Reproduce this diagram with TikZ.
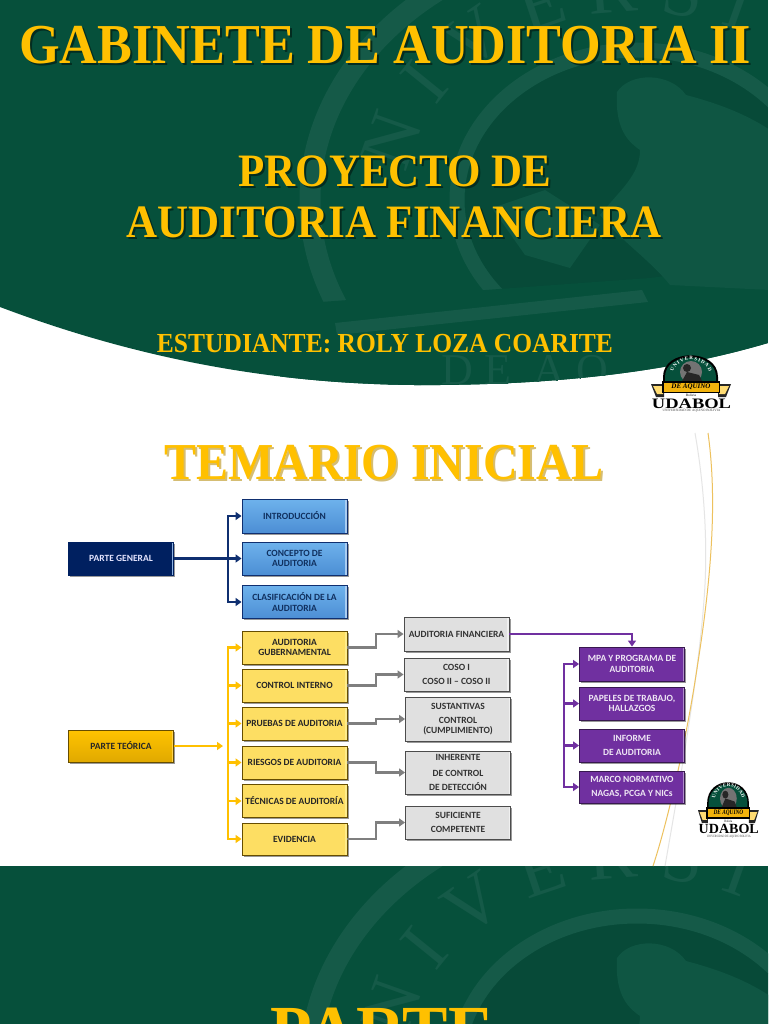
\documentclass[tikz,border=0pt]{standalone}
\usepackage{fontspec}
\setmainfont{Liberation Serif}
\newfontfamily\cajafont{Carlito}
\usetikzlibrary{arrows.meta,shadows,decorations.text}

\definecolor{verdefondo}{HTML}{06503B}
\definecolor{verdesello}{HTML}{155A48}
\definecolor{verdefigura}{HTML}{0F5643}
\definecolor{verdeoscuro}{HTML}{074A38}
\definecolor{oro}{HTML}{FFC000}
\definecolor{azulosc}{HTML}{002060}
\definecolor{azulflecha}{HTML}{0F2F70}
\definecolor{azulborde}{HTML}{8FB4E3}
\definecolor{azulclaro}{HTML}{A9CDF2}
\definecolor{grisflecha}{HTML}{7F7F7F}
\definecolor{moradoflecha}{HTML}{7030A0}
\definecolor{tituloazul}{HTML}{10305F}

\newcommand{\sombreado}[2]{\leavevmode\rlap{\kern2pt\raisebox{-2pt}{\color{#1}#2}}#2}

\tikzset{
  titulo/.style={text=oro,font=\bfseries\fontsize{#1}{#1}\selectfont,inner sep=0pt,yscale=1.08,transform shape},
  cajabase/.style={rectangle,minimum width=105pt,inner sep=0pt,align=center,line width=0.9pt,
    font=\cajafont\bfseries\fontsize{9.5}{10.5}\selectfont,
    drop shadow={shadow xshift=1.5pt,shadow yshift=-1.5pt,opacity=0.4,fill=black},
    path picture={\fill[#1] ([xshift=-2pt]path picture bounding box.north east) rectangle (path picture bounding box.south east);}},
  cajaazul/.style={cajabase=azulclaro,draw=azulflecha,top color={rgb,255:red,110;green,178;blue,236},bottom color={rgb,255:red,76;green,142;blue,212},text=tituloazul},
  cajamarino/.style={cajabase=azulborde,draw=azulosc,fill=azulosc,text=white!90!blue},
  cajaoro/.style={cajabase=oro!70!white,draw=oro!40!black,top color=oro!95!yellow,bottom color=oro!88!black,text=black!85},
  cajaamarilla/.style={cajabase=yellow!50!oro!45!white,draw=black!60!oro,fill=yellow!25!oro!60!white,text=black!85},
  cajagris/.style={cajabase=black!6,draw=black!70,fill=black!12,text=black!80},
  cajamorada/.style={cajabase=moradoflecha!55!white,draw=moradoflecha!50!black,fill=moradoflecha,text=white!88!moradoflecha},
  flecha/.style={line width=2.1pt,-{Triangle[length=6pt,width=8pt]}},
  logotexto/.style={inner sep=0pt,text=black},
}

% Dibuja el sello de fondo
\newcommand{\sellofondo}{%
  \fill [verdeoscuro] (637,200) ellipse (172 and 143);%
  \draw [verdesello,line width=21pt] (637,200) ellipse (327 and 264);%
  \draw [verdesello,line width=15pt] (637,200) ellipse (180 and 150);%
  \fill [verdefondo] (280,305) -- (650,278) -- (790,260) -- (790,480) -- (280,480) -- cycle;%
  \fill [verdesello] (335,323) -- (642,290) -- (648,302) -- (337,335) -- cycle;%
  % cabeza y cuerpo
  \fill [verdefigura] (617,92) .. controls (630,72) and (670,72) .. (686,95) .. controls (705,100) and (740,110) .. (770,130)
    -- (770,290) -- (670,285) .. controls (650,260) and (620,240) .. (600,215) .. controls (620,190) and (640,175) .. (640,150)
    .. controls (625,140) and (615,125) .. (617,92) -- cycle;%
  % libro
  \fill [verdefigura] (492,208) -- (545,190) -- (600,225) -- (570,268) -- (525,255) -- cycle;%
  \path [decorate,decoration={text along path,text align=fit to path,
    text={|\fontsize{74}{74}\selectfont\color{verdesello}|NIVERSI}}]
    (637,200) ++(188:232 and 188) arc[start angle=188,end angle=297,x radius=232,y radius=188];%
}

% Dibuja el logo: #1 prefijo de nombres
\newcommand{\logoudabol}[1]{%
  \fill [black] (12,37) -- (12,22) .. controls (12,-7) and (67,-7) .. (67,22) -- (67,37) -- cycle;%
  \fill [verdefondo] (14,35) -- (14,22) .. controls (14,-4) and (65,-4) .. (65,22) -- (65,35) -- cycle;%
  \fill [black!55!white] (40,17) circle (11);%
  \fill [black!85] (36,13) circle (4);%
  \fill [black!85] (30,28) -- (36,17) -- (48,20) -- (52,28) -- cycle;%
  \fill [black!85] (0,29) -- (13,29) -- (13,42) -- (5,42) -- cycle;%
  \fill [black!85] (80,29) -- (67,29) -- (67,42) -- (75,42) -- cycle;%
  \fill [oro!55!white] (2,31) -- (12,31) -- (12,39) -- (6,39) -- cycle;%
  \fill [oro!55!white] (78,31) -- (68,31) -- (68,39) -- (74,39) -- cycle;%
  \fill [black] (11,26) rectangle (69,38);%
  \fill [oro!80!brown] (12.5,27.5) rectangle (67.5,36.5);%
  \path [decorate,decoration={text along path,text align=fit to path,
    text={|\bfseries\fontsize{5}{5}\selectfont\color{white}|UNIVERSIDAD}}]
    (40,19) ++(190:18 and 14) arc[start angle=190,end angle=350,x radius=18,y radius=14];%
  \node [logotexto,transform shape,font=\itshape\bfseries\fontsize{7}{7}\selectfont] (#1aquino) at (40,32) {DE AQUINO};%
  \node [logotexto,transform shape,font=\fontsize{3.5}{3.5}\selectfont] (#1bolivia) at (40,40.5) {Bolivia};%
  \node [logotexto,transform shape,yscale=0.78,font=\bfseries\fontsize{18.5}{18.5}\selectfont] (#1nombre) at (40.5,48.5) {UDABOL};%
  \node [logotexto,transform shape,text=black!75,font=\fontsize{3.4}{3.4}\selectfont] (#1lema) at (40.5,56) {UNIVERSIDAD DE AQUINO BOLIVIA};%
}

\begin{document}
\begin{tikzpicture}[x=1pt,y=-1pt]
  \useasboundingbox (0,0) rectangle (768,1024);
  \clip (0,0) rectangle (768,1024);

  % Fondo blanco y franjas verdes
  \fill [white] (0,0) rectangle (768,1024);
  \begin{scope}
    \clip (0,0) -- (768,0) -- (768,343) .. controls (670,372) and (560,384) .. (440,385) .. controls (330,386) and (180,375) .. (0,307) -- cycle;
    \fill [verdefondo] (0,0) rectangle (768,400);
    \sellofondo
    \node [inner sep=0pt,anchor=north,text=verdesello,font=\fontsize{44}{44}\selectfont] (selloaquino) at (525,355) {D E \ A Q};
  \end{scope}
  \begin{scope}
    \clip (0,866) rectangle (768,1024);
    \fill [verdefondo] (0,866) rectangle (768,1024);
    \begin{scope}[yshift=-866pt]
      \sellofondo
    \end{scope}
  \end{scope}

  % Titulos
  \node [titulo=52.2] (tgabinete) at (385,46) {\sombreado{black!45!verdefondo}{GABINETE DE AUDITORIA II}};
  \node [titulo=43] (tproyecto) at (395,172) {\sombreado{black!45!verdefondo}{PROYECTO DE}};
  \node [titulo=43] (tfinanciera) at (394,223) {\sombreado{black!45!verdefondo}{AUDITORIA FINANCIERA}};
  \node [titulo=25.5] (testudiante) at (385,344) {ESTUDIANTE: ROLY LOZA COARITE};
  \node [titulo=48] (ttemario) at (384,464) {\sombreado{black!30!oro!55!white}{TEMARIO INICIAL}};
  \node [titulo=68,anchor=base] (tparte) at (382,1056) {PARTE};

  % Lineas finas decorativas
  \draw [black!10,line width=1pt] (695,433) .. controls (705,490) and (708,550) .. (704,600) .. controls (698,680) and (680,780) .. (665,866);
  \draw [oro!60!brown!70!white,line width=1pt] (708,433) .. controls (716,490) and (714,560) .. (698,662) .. controls (685,750) and (665,830) .. (653,866);

  % Logos
  \begin{scope}[shift={(651,355)}]
    \logoudabol{a}
  \end{scope}
  \begin{scope}[shift={(698,782)},xscale=0.76,yscale=0.97]
    \logoudabol{b}
  \end{scope}

  % Cajas azules
  \node [cajamarino,minimum height=33pt] (generalp) at (121,558.5) {PARTE GENERAL};
  \node [cajaazul,minimum height=34pt] (introduccion) at (294.5,516) {INTRODUCCIÓN};
  \node [cajaazul,minimum height=33pt] (concepto) at (294.5,558.5) {CONCEPTO DE\\AUDITORIA};
  \node [cajaazul,minimum height=33pt] (clasificacion) at (294.5,602) {CLASIFICACIÓN DE LA\\AUDITORIA};

  % Cajas amarillas
  \node [cajaoro,minimum height=32pt] (teorica) at (121,746) {PARTE TEÓRICA};
  \node [cajaamarilla,minimum height=33pt] (gubernamental) at (294.5,647.5) {AUDITORIA\\GUBERNAMENTAL};
  \node [cajaamarilla,minimum height=33pt] (control) at (294.5,685.5) {CONTROL INTERNO};
  \node [cajaamarilla,minimum height=33pt] (pruebas) at (294.5,723.5) {PRUEBAS DE AUDITORIA};
  \node [cajaamarilla,minimum height=33pt] (riesgos) at (294.5,762.5) {RIESGOS DE AUDITORIA};
  \node [cajaamarilla,minimum height=33pt] (tecnicas) at (294.5,801) {TÉCNICAS DE AUDITORÍA};
  \node [cajaamarilla,minimum height=32pt] (evidencia) at (294.5,839) {EVIDENCIA};

  % Cajas grises
  \node [cajagris,minimum height=34pt] (financiera) at (456.5,634) {AUDITORIA FINANCIERA};
  \node [cajagris,minimum height=33pt] (coso) at (456.5,674.5) {COSO I\\[3.5pt]COSO II – COSO II};
  \node [cajagris,minimum height=44pt] (sustantivas) at (458,719) {SUSTANTIVAS\\[3.5pt]CONTROL\\(CUMPLIMIENTO)};
  \node [cajagris,minimum height=43pt] (inherente) at (458,772.5) {INHERENTE\\[5pt]DE CONTROL\\[4pt]DE DETECCIÓN};
  \node [cajagris,minimum height=33pt] (suficiente) at (458,822.5) {SUFICIENTE\\[3.5pt]COMPETENTE};

  % Cajas moradas
  \node [cajamorada,minimum height=34pt] (mpa) at (632,664) {MPA Y PROGRAMA DE\\AUDITORIA};
  \node [cajamorada,minimum height=33pt] (papeles) at (632,703.5) {PAPELES DE TRABAJO,\\HALLAZGOS};
  \node [cajamorada,minimum height=33pt] (informe) at (632,745.5) {INFORME\\[3.5pt]DE AUDITORIA};
  \node [cajamorada,minimum height=32pt] (marco) at (632,787) {MARCO NORMATIVO\\[4pt]NAGAS, PCGA Y NICs};

  % Puntos de quiebre
  \coordinate (troncoazul) at (228,558.5);
  \coordinate (troncooro) at (228,746);
  \coordinate (finoro) at (223,746);
  \coordinate (codogris) at (376,700);
  \coordinate (troncomorado) at (564,725);

  % Conectores azules
  \draw [azulflecha,flecha] (generalp.east) -- (concepto.west);
  \draw [azulflecha,flecha] (troncoazul) |- (introduccion.west);
  \draw [azulflecha,flecha] (troncoazul) |- (clasificacion.west);

  % Conectores amarillos
  \draw [oro,flecha] (teorica.east) -- (finoro);
  \draw [oro,flecha] (troncooro) |- (gubernamental.west);
  \draw [oro,flecha] (troncooro |- control.west) -- (control.west);
  \draw [oro,flecha] (troncooro |- pruebas.west) -- (pruebas.west);
  \draw [oro,flecha] (troncooro |- riesgos.west) -- (riesgos.west);
  \draw [oro,flecha] (troncooro |- tecnicas.west) -- (tecnicas.west);
  \draw [oro,flecha] (troncooro) |- (evidencia.west);

  % Conectores grises
  \draw [grisflecha,flecha] (gubernamental.east) -- (gubernamental.east -| codogris) |- (financiera.west);
  \draw [grisflecha,flecha] (control.east) -- (control.east -| codogris) |- (coso.west);
  \draw [grisflecha,flecha] (pruebas.east) -- (pruebas.east -| codogris) |- (sustantivas.west);
  \draw [grisflecha,flecha] (riesgos.east) -- (riesgos.east -| codogris) |- (inherente.west);
  \draw [grisflecha,flecha] (evidencia.east) -- (evidencia.east -| codogris) |- (suficiente.west);

  % Conectores morados
  \draw [moradoflecha,flecha] (financiera.east) -| (mpa.north);
  \draw [moradoflecha,flecha] (troncomorado) |- (mpa.west);
  \draw [moradoflecha,flecha] (troncomorado |- papeles.west) -- (papeles.west);
  \draw [moradoflecha,flecha] (troncomorado |- informe.west) -- (informe.west);
  \draw [moradoflecha,flecha] (troncomorado) |- (marco.west);
\end{tikzpicture}
\end{document}
